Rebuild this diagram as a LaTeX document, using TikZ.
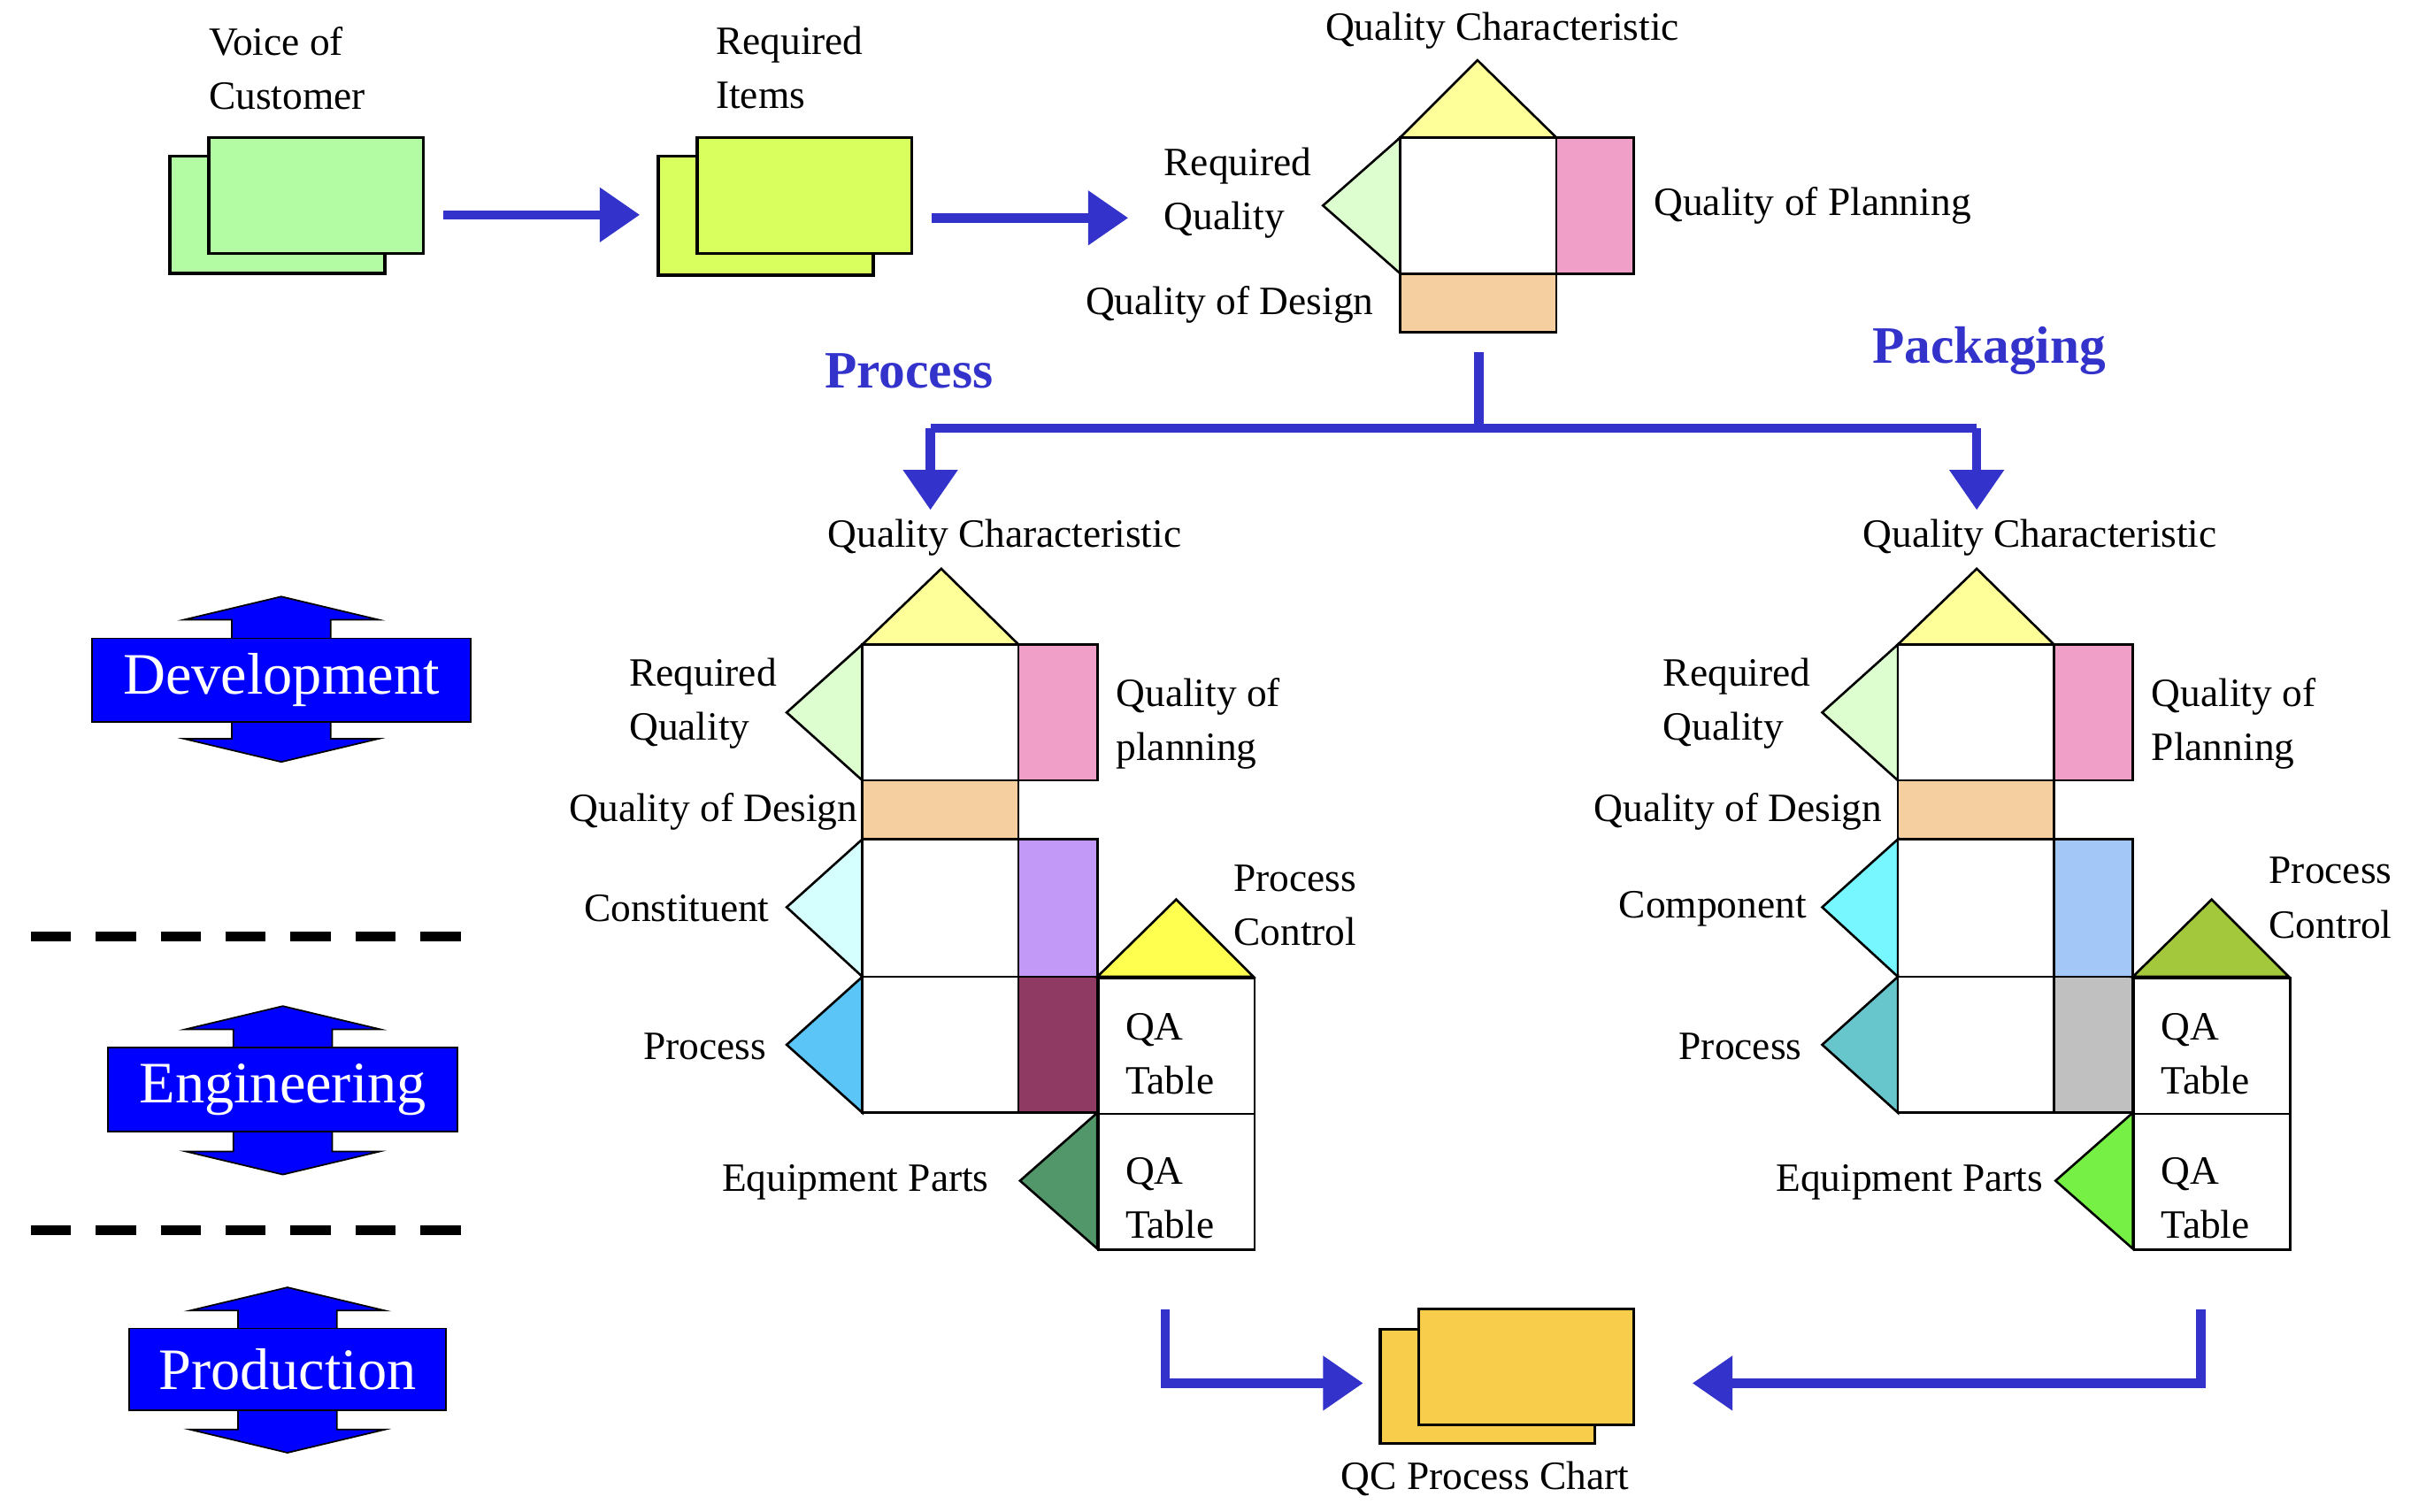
\documentclass[tikz,border=0pt]{standalone}
\usepackage{fontspec}
\setmainfont{Liberation Serif}
\usetikzlibrary{arrows.meta}
\definecolor{arr}{HTML}{3333CC}
\tikzset{
  x=1pt,y=-1pt,
  lbl/.style={font=\fontsize{26}{35}\selectfont,inner sep=0pt,align=left},
  cell/.style={draw=black,line width=1.5pt},
  conn/.style={draw=arr,line width=6pt,-{Triangle[length=26pt,width=34pt]}},
  stage/.style={fill=blue,draw=black,line width=1pt,text=white,font=\fontsize{38}{40}\selectfont,inner sep=4pt},
  ttl/.style={text=arr,font=\bfseries\fontsize{34}{36}\selectfont},
  doc/.style={cell,line width=2pt}
}
\newcommand{\dblarrow}[5]{% cx, top apex, rect top, rect bottom, bottom apex
  \fill[blue,draw=black,line width=1pt] (#1,#2) -- (#1+63,#2+15) -- (#1+32,#2+15) -- (#1+32,#3+1) -- (#1-32,#3+1) -- (#1-32,#2+15) -- (#1-63,#2+15) -- cycle;
  \fill[blue,draw=black,line width=1pt] (#1,#5) -- (#1+63,#5-15) -- (#1+32,#5-15) -- (#1+32,#4-1) -- (#1-32,#4-1) -- (#1-32,#5-15) -- (#1-63,#5-15) -- cycle;
}
\begin{document}
\begin{tikzpicture}
\useasboundingbox (0,0) rectangle (1560,978);
% ---------- top row
\draw[doc,fill={rgb,255:red,179;green,252;blue,163}] (110,101) rectangle (249,177);
\draw[doc,fill={rgb,255:red,179;green,252;blue,163}] (135,89) rectangle (274,164);
\node[lbl,anchor=north west] (voc) at (135,17) {Voice of\\Customer};
\draw[doc,fill={rgb,255:red,217;green,255;blue,94}] (426,101) rectangle (565,178);
\draw[doc,fill={rgb,255:red,217;green,255;blue,94}] (451,89) rectangle (590,164);
\node[lbl,anchor=north west] (ri) at (463,17) {Required\\Items};
\coordinate (a1s) at (287,139); \coordinate (a1e) at (414,139);
\coordinate (a2s) at (603,141); \coordinate (a2e) at (730,141);
\draw[conn] (a1s) -- (a1e);
\draw[conn] (a2s) -- (a2e);
% top HOQ
\draw[cell,fill={rgb,255:red,255;green,255;blue,153}] (906,89) -- (956,39) -- (1007,89) -- cycle;
\draw[cell,fill={rgb,255:red,221;green,255;blue,208}] (906,89) -- (856,133) -- (906,177) -- cycle;
\draw[cell,fill={rgb,255:red,240;green,160;blue,200}] (1007,89) rectangle (1057,177);
\draw[cell,fill={rgb,255:red,245;green,207;blue,160}] (906,177) rectangle (1007,215);
\draw[cell,fill=white] (906,89) rectangle (1007,177);
\node[lbl] (tqc) at (972,20) {Quality Characteristic};
\node[lbl,anchor=west] (trq) at (753,125) {Required\\Quality};
\node[lbl,anchor=west] (tqp) at (1070,133) {Quality of Planning};
\node[lbl,anchor=east] (tqd) at (889,197) {Quality of Design};
\node[ttl] (proc) at (588,240) {Process};
\node[ttl] (pack) at (1287,227) {Packaging};
\coordinate (sp) at (957,228); \coordinate (sj) at (957,277);
\coordinate (sl) at (602,277); \coordinate (sr) at (1279,277);
\coordinate (sle) at (602,330); \coordinate (sre) at (1279,330);
\draw[draw=arr,line width=6pt] (sp) -- (sj) (sl) -- (sr);
\draw[conn] (sl) -- (sle);
\draw[conn] (sr) -- (sre);
% ---------- HOQ macro via scopes
\foreach \dx/\cA/\cB/\cC/\cD/\cE/\cF in {
  0/{213,255,255}/{195,153,247}/{91,197,247}/{142,58,99}/{255,255,79}/{82,151,106},
  670/{119,247,255}/{163,200,248}/{102,198,203}/{192,192,192}/{163,200,60}/{119,240,70}}{
 \begin{scope}[xshift=\dx pt]
  \definecolor{cA}{RGB}{\cA}\definecolor{cB}{RGB}{\cB}\definecolor{cC}{RGB}{\cC}
  \definecolor{cD}{RGB}{\cD}\definecolor{cE}{RGB}{\cE}\definecolor{cF}{RGB}{\cF}
  \draw[cell,fill={rgb,255:red,255;green,255;blue,153}] (558,417) -- (609,368) -- (659,417) -- cycle;
  \draw[cell,fill={rgb,255:red,221;green,255;blue,208}] (558,417) -- (509,461) -- (558,505) -- cycle;
  \draw[cell,fill={rgb,255:red,240;green,160;blue,200}] (659,417) rectangle (710,505);
  \draw[cell,fill={rgb,255:red,245;green,207;blue,160}] (558,505) rectangle (659,543);
  \draw[cell,fill=white] (558,417) rectangle (659,505);
  \draw[cell,fill=cA] (558,543) -- (509,587) -- (558,632) -- cycle;
  \draw[cell,fill=cB] (659,543) rectangle (710,632);
  \draw[cell,fill=white] (558,543) rectangle (659,632);
  \draw[cell,fill=cC] (558,632) -- (509,676) -- (558,720) -- cycle;
  \draw[cell,fill=cD] (659,632) rectangle (710,720);
  \draw[cell,fill=white] (558,632) rectangle (659,720);
  \draw[cell,fill=cE] (710,632) -- (761,582) -- (811,632) -- cycle;
  \draw[cell,fill=cF] (710,720) -- (660,764) -- (710,808) -- cycle;
  \node[cell,fill=white,minimum width=101pt,minimum height=88pt,anchor=north west] (qa1) at (710,632) {};
  \node[cell,fill=white,minimum width=101pt,minimum height=88pt,anchor=north west] (qa2) at (710,720) {};
  \node[lbl,anchor=west] (qt1) at (728,682) {QA\\Table};
  \node[lbl,anchor=west] (qt2) at (728,775) {QA\\Table};
  \node[lbl] (qc) at (650,348) {Quality Characteristic};
 \end{scope}}
% labels left HOQ
\node[lbl,anchor=west] (l1) at (407,455) {Required\\Quality};
\node[lbl,anchor=west] (l2) at (722,468) {Quality of\\planning};
\node[lbl,anchor=east] (l3) at (555,525) {Quality of Design};
\node[lbl,anchor=east] (l4) at (498,588) {Constituent};
\node[lbl,anchor=east] (l5) at (496,677) {Process};
\node[lbl,anchor=east] (l6) at (640,765) {Equipment Parts};
\node[lbl,anchor=west] (l7) at (798,586) {Process\\Control};
% labels right HOQ
\node[lbl,anchor=west] (r1) at (1076,455) {Required\\Quality};
\node[lbl,anchor=west] (r2) at (1392,468) {Quality of\\Planning};
\node[lbl,anchor=east] (r3) at (1218,525) {Quality of Design};
\node[lbl,anchor=east] (r4) at (1169,588) {Component};
\node[lbl,anchor=east] (r5) at (1166,677) {Process};
\node[lbl,anchor=east] (r6) at (1322,765) {Equipment Parts};
\node[lbl,anchor=west] (r7) at (1468,581) {Process\\Control};
% QC process chart
\draw[doc,fill={rgb,255:red,247;green,205;blue,75}] (893,860) rectangle (1032,934);
\draw[doc,fill={rgb,255:red,247;green,205;blue,75}] (918,847) rectangle (1057,922);
\node[lbl] (qcpc) at (961,957) {QC Process Chart};
\coordinate (b1) at (754,847); \coordinate (b1c) at (754,895); \coordinate (b1e) at (882,895);
\coordinate (b2) at (1424,847); \coordinate (b2c) at (1424,895); \coordinate (b2e) at (1095,895);
\draw[conn] (b1) -- (b1c) -- (b1e);
\draw[conn] (b2) -- (b2c) -- (b2e);
% ---------- stages
\dblarrow{182}{386}{413}{467}{493}
\node[stage,minimum width=245pt,minimum height=54pt] (dev) at (182,440) {Development};
\dblarrow{183}{651}{678}{732}{760}
\node[stage,minimum width=226pt,minimum height=54pt] (eng) at (183,705) {Engineering};
\dblarrow{186}{833}{860}{913}{940}
\node[stage,minimum width=205pt,minimum height=53pt] (prd) at (186,886) {Production};
\coordinate (d1a) at (20,606); \coordinate (d1b) at (310,606);
\coordinate (d2a) at (20,796); \coordinate (d2b) at (310,796);
\draw[line width=6pt,dash pattern=on 26pt off 16pt] (d1a) -- (d1b);
\draw[line width=6pt,dash pattern=on 26pt off 16pt] (d2a) -- (d2b);
\end{tikzpicture}
\end{document}
